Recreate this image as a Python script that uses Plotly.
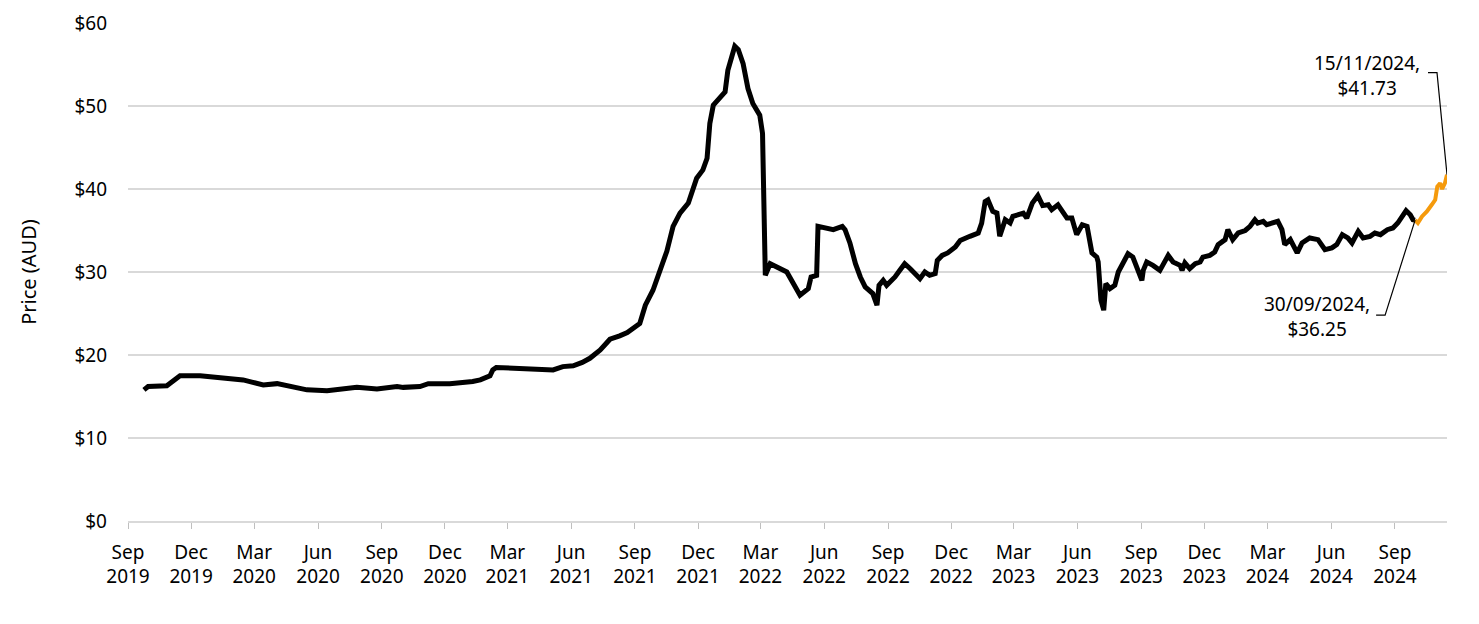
import plotly.graph_objects as go

# share price history (AUD)
hist_dates = [
    "2019-09-24", "2019-09-30", "2019-10-27", "2019-11-03", "2019-11-15", "2019-12-14",
    "2020-01-07", "2020-02-14", "2020-02-28", "2020-03-14", "2020-04-03", "2020-04-26",
    "2020-05-16", "2020-06-14", "2020-06-28", "2020-07-27", "2020-08-25", "2020-09-23",
    "2020-10-02", "2020-10-26", "2020-11-07", "2020-12-08", "2021-01-10", "2021-01-21",
    "2021-02-04", "2021-02-08", "2021-02-13", "2021-04-07", "2021-05-06", "2021-05-20",
    "2021-06-04", "2021-06-17", "2021-06-28", "2021-07-13", "2021-07-27", "2021-08-10",
    "2021-08-21", "2021-09-08", "2021-09-16", "2021-09-27", "2021-10-10", "2021-10-17",
    "2021-10-26", "2021-11-05", "2021-11-17", "2021-11-22", "2021-11-29", "2021-12-08",
    "2021-12-14", "2021-12-18", "2021-12-23", "2022-01-09", "2022-01-13", "2022-01-23",
    "2022-01-28", "2022-02-04", "2022-02-11", "2022-02-18", "2022-02-28", "2022-03-04",
    "2022-03-06", "2022-03-08", "2022-03-15", "2022-04-08", "2022-04-27", "2022-05-09",
    "2022-05-13", "2022-05-21", "2022-05-23", "2022-06-14", "2022-06-27", "2022-07-01",
    "2022-07-08", "2022-07-16", "2022-07-23", "2022-07-30", "2022-08-10", "2022-08-16",
    "2022-08-19", "2022-08-25", "2022-08-30", "2022-09-11", "2022-09-18", "2022-09-25",
    "2022-10-03", "2022-10-10", "2022-10-17", "2022-10-24", "2022-10-31", "2022-11-08",
    "2022-11-11", "2022-11-18", "2022-11-26", "2022-12-07", "2022-12-14", "2022-12-28",
    "2023-01-09", "2023-01-14", "2023-01-19", "2023-01-23", "2023-01-30", "2023-02-05",
    "2023-02-09", "2023-02-17", "2023-02-24", "2023-02-28", "2023-03-15", "2023-03-20",
    "2023-03-28", "2023-04-05", "2023-04-12", "2023-04-20", "2023-04-25", "2023-05-04",
    "2023-05-11", "2023-05-17", "2023-05-24", "2023-05-31", "2023-06-08", "2023-06-15",
    "2023-06-22", "2023-06-29", "2023-07-01", "2023-07-05", "2023-07-09", "2023-07-12",
    "2023-07-18", "2023-07-25", "2023-07-30", "2023-08-06", "2023-08-13", "2023-08-20",
    "2023-08-27", "2023-09-02", "2023-09-04", "2023-09-09", "2023-09-18", "2023-09-28",
    "2023-10-02", "2023-10-10", "2023-10-17", "2023-10-27", "2023-10-30", "2023-11-03",
    "2023-11-10", "2023-11-18", "2023-11-25", "2023-11-29", "2023-12-09", "2023-12-16",
    "2023-12-21", "2023-12-31", "2024-01-04", "2024-01-11", "2024-01-19", "2024-01-29",
    "2024-02-05", "2024-02-12", "2024-02-16", "2024-02-24", "2024-02-29", "2024-03-08",
    "2024-03-16", "2024-03-22", "2024-03-26", "2024-04-03", "2024-04-13", "2024-04-20",
    "2024-05-01", "2024-05-13", "2024-05-23", "2024-06-02", "2024-06-09", "2024-06-17",
    "2024-06-25", "2024-07-01", "2024-07-10", "2024-07-17", "2024-07-27", "2024-08-03",
    "2024-08-11", "2024-08-21", "2024-08-29", "2024-09-05", "2024-09-11", "2024-09-17",
    "2024-09-23", "2024-09-27", "2024-09-30",
]
hist_prices = [
    15.8, 16.2, 16.3, 16.7, 17.5, 17.5,
    17.3, 17.0, 16.7, 16.4, 16.55, 16.1,
    15.8, 15.7, 15.8, 16.1, 15.9, 16.2,
    16.1, 16.2, 16.55, 16.55, 16.8, 17.0,
    17.5, 18.2, 18.5, 18.4, 18.2, 18.6,
    18.7, 19.1, 19.6, 20.6, 21.9, 22.3,
    22.7, 23.8, 26.0, 27.8, 30.6, 32.5,
    35.5, 37.1, 38.3, 39.5, 41.3, 42.3,
    43.7, 47.9, 50.1, 51.7, 54.3, 57.2,
    56.8, 55.1, 52.1, 50.3, 48.9, 46.7,
    35.1, 29.6, 31.0, 30.0, 27.2, 28.0,
    29.4, 29.6, 35.5, 35.1, 35.5, 35.1,
    33.5, 31.0, 29.4, 28.2, 27.4, 26.0,
    28.4, 29.0, 28.4, 29.4, 30.2, 31.0,
    30.4, 29.8, 29.2, 30.0, 29.6, 29.8,
    31.4, 32.0, 32.3, 33.0, 33.8, 34.3,
    34.7, 35.9, 38.5, 38.7, 37.3, 37.1,
    34.3, 36.3, 35.9, 36.7, 37.1, 36.5,
    38.3, 39.2, 38.0, 38.1, 37.5, 38.1,
    37.3, 36.5, 36.5, 34.5, 35.7, 35.5,
    32.3, 31.8, 31.2, 26.6, 25.4, 28.6,
    28.0, 28.4, 30.0, 31.2, 32.2, 31.8,
    30.2, 29.0, 30.2, 31.2, 30.8, 30.2,
    30.8, 32.0, 31.2, 30.8, 30.2, 31.1,
    30.4, 31.0, 31.2, 31.8, 32.0, 32.4,
    33.3, 33.9, 35.1, 33.9, 34.7, 35.0,
    35.5, 36.3, 35.9, 36.1, 35.7, 35.9,
    36.1, 35.1, 33.3, 33.9, 32.3, 33.5,
    34.1, 33.9, 32.7, 32.9, 33.3, 34.5,
    34.1, 33.5, 34.9, 34.1, 34.3, 34.7,
    34.5, 35.1, 35.3, 35.9, 36.7, 37.4,
    36.9, 36.3, 36.25,
]

# period after 30/09/2024
recent_dates = [
    "2024-09-30", "2024-10-04", "2024-10-10", "2024-10-17", "2024-10-24", "2024-10-29",
    "2024-11-01", "2024-11-05", "2024-11-08", "2024-11-12", "2024-11-15",
]
recent_prices = [36.25, 35.9, 36.7, 37.3, 38.1, 38.7, 40.3, 40.7, 40.0, 40.7, 41.73]

tick_dates = [
    "2019-09-01", "2019-12-01", "2020-03-01", "2020-06-01", "2020-09-01", "2020-12-01",
    "2021-03-01", "2021-06-01", "2021-09-01", "2021-12-01", "2022-03-01", "2022-06-01",
    "2022-09-01", "2022-12-01", "2023-03-01", "2023-06-01", "2023-09-01", "2023-12-01",
    "2024-03-01", "2024-06-01", "2024-09-01",
]
tick_labels = [
    "Sep<br>2019", "Dec<br>2019", "Mar<br>2020", "Jun<br>2020", "Sep<br>2020", "Dec<br>2020",
    "Mar<br>2021", "Jun<br>2021", "Sep<br>2021", "Dec<br>2021", "Mar<br>2022", "Jun<br>2022",
    "Sep<br>2022", "Dec<br>2022", "Mar<br>2023", "Jun<br>2023", "Sep<br>2023", "Dec<br>2023",
    "Mar<br>2024", "Jun<br>2024", "Sep<br>2024",
]
y_ticks = [0, 10, 20, 30, 40, 50, 60]
y_labels = ["$" + str(v) for v in y_ticks]

FONT = "Noto Sans"
grid = "#d9d9d9"

fig = go.Figure()
fig.add_trace(go.Scatter(x=hist_dates, y=hist_prices, mode="lines",
                         line=dict(color="black", width=5), showlegend=False))
fig.add_trace(go.Scatter(x=recent_dates, y=recent_prices, mode="lines",
                         line=dict(color="#f59a0c", width=4), showlegend=False))

# labels with elbow leader lines, anchored at the end points
labels = [
    (recent_dates[-1], recent_prices[-1], "15/11/2024,<br>$41.73", -25, 99, "M-19,102 L-10,102 L0,0"),
    (hist_dates[-1], hist_prices[-1], "30/09/2024,<br>$36.25", -43, -96, "M-39,-95 L-30,-95 L0,0"),
]
for xd, yv, txt, xs, ys, path in labels:
    fig.add_annotation(x=xd, y=yv, text=txt, showarrow=False, xanchor="right",
                       yanchor="middle", align="center", xshift=xs, yshift=ys,
                       font=dict(family=FONT, size=19, color="black"))
    fig.add_shape(type="path", xref="x", yref="y", xsizemode="pixel", ysizemode="pixel",
                  xanchor=xd, yanchor=yv, path=path, line=dict(color="black", width=1.2))

fig.update_layout(
    width=1471, height=616,
    margin=dict(l=120, r=32, t=15, b=103),
    paper_bgcolor="white", plot_bgcolor="white",
    font=dict(family=FONT, size=19, color="black"),
)
fig.update_xaxes(
    type="date", range=["2019-09-01", "2024-11-15"], automargin=False,
    tickvals=tick_dates, ticktext=tick_labels,
    showgrid=False, showline=True, linecolor=grid, linewidth=1.5,
    ticks="outside", ticklen=6, tickcolor="#bfbfbf", ticklabelstandoff=7,
    tickfont=dict(family=FONT, size=19),
)
fig.update_yaxes(
    range=[0, 60], tickvals=y_ticks, ticktext=y_labels, automargin=False,
    showgrid=True, gridcolor=grid, gridwidth=1.5, zeroline=False,
    showline=False, ticks="", ticklabelstandoff=20,
    tickfont=dict(family=FONT, size=19),
    title=dict(text="Price (AUD)", standoff=32, font=dict(family=FONT, size=20)),
)

fig.write_html("out.html")
